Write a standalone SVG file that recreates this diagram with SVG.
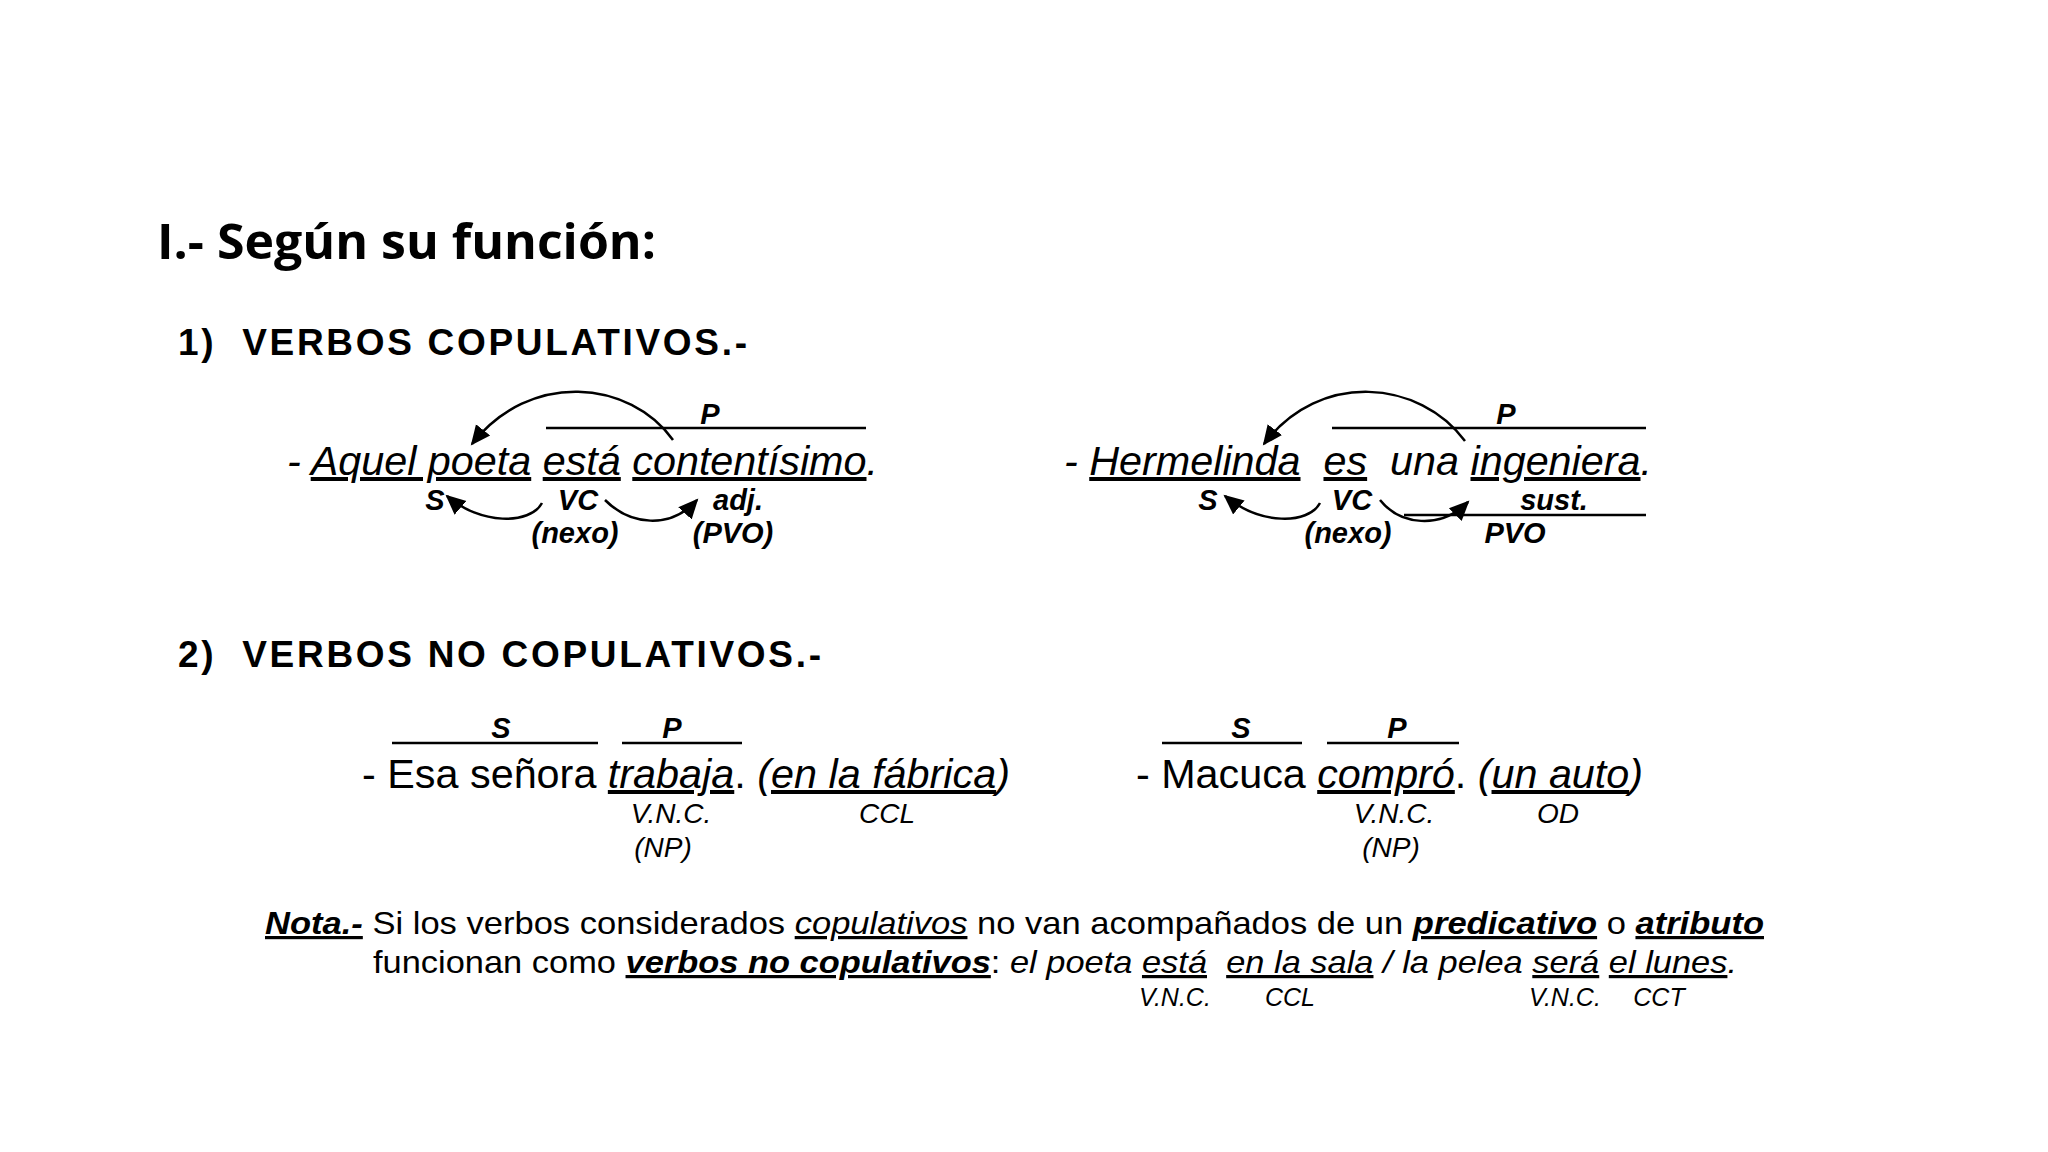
<svg xmlns="http://www.w3.org/2000/svg" width="2048" height="1152" viewBox="0 0 2048 1152">
<style>
.t{font-family:"Open Sans",sans-serif;font-weight:bold;font-size:48px;fill:#000}
.h{font-family:"Liberation Sans",Arial,sans-serif;font-weight:bold;font-size:37px;fill:#000}
.s{font-family:"Liberation Sans",Arial,sans-serif;font-size:40px;fill:#000}
.i{font-style:italic}
.u{text-decoration:underline}
.lb{font-family:"Liberation Sans",Arial,sans-serif;font-weight:bold;font-style:italic;font-size:29px;fill:#000;text-anchor:middle}
.ln{font-family:"Liberation Sans",Arial,sans-serif;font-style:italic;font-size:28px;fill:#000;text-anchor:middle}
.n{font-family:"Liberation Sans",Arial,sans-serif;font-size:32px;fill:#000}
.nl{font-family:"Liberation Sans",Arial,sans-serif;font-style:italic;font-size:25px;fill:#000;text-anchor:middle}
.l{stroke:#000;stroke-width:2.5}
.a{fill:none;stroke:#000;stroke-width:2.5}
</style>
<defs>
<marker id="ab" markerWidth="22" markerHeight="22" refX="18" refY="11" orient="auto" markerUnits="userSpaceOnUse"><path d="M0,2 L20,11 L0,20 Z" fill="#000"/></marker>
</defs>
<g id="title"><text class="t" x="157" y="259" textLength="499" lengthAdjust="spacingAndGlyphs">I.- Según su función:</text></g>
<g id="h1"><text class="h" x="178" y="355" textLength="569" xml:space="preserve">1)  VERBOS COPULATIVOS.-</text></g>
<g id="h2"><text class="h" x="178" y="667" textLength="643" xml:space="preserve">2)  VERBOS NO COPULATIVOS.-</text></g>

<g id="sent1">
<text class="s i" x="287" y="475" textLength="591" lengthAdjust="spacingAndGlyphs">- <tspan class="u">Aquel poeta</tspan> <tspan class="u">está</tspan> <tspan class="u">contentísimo</tspan>.</text>
<line class="l" x1="546" y1="428" x2="866" y2="428"/>
<text class="lb" x="710" y="424">P</text>
<text class="lb" x="435" y="510">S</text>
<text class="lb" x="578" y="510">VC</text>
<text class="lb" x="738" y="510">adj.</text>
<text class="lb" x="575" y="543">(nexo)</text>
<text class="lb" x="733" y="543">(PVO)</text>
</g>
<g id="sent2">
<text class="s i" x="1064" y="475" textLength="588" lengthAdjust="spacingAndGlyphs" xml:space="preserve">- <tspan class="u">Hermelinda</tspan>  <tspan class="u">es</tspan>  una <tspan class="u">ingeniera</tspan>.</text>
<line class="l" x1="1332" y1="428" x2="1646" y2="428"/>
<line class="l" x1="1404" y1="515" x2="1646" y2="515"/>
<text class="lb" x="1506" y="424">P</text>
<text class="lb" x="1208" y="510">S</text>
<text class="lb" x="1352" y="510">VC</text>
<text class="lb" x="1554" y="510">sust.</text>
<text class="lb" x="1348" y="543">(nexo)</text>
<text class="lb" x="1515" y="543">PVO</text>
</g>
<g id="sent3">
<text class="s" x="362" y="788" textLength="648" lengthAdjust="spacingAndGlyphs">- Esa señora <tspan class="i u">trabaja</tspan>. <tspan class="i">(<tspan class="u">en la fábrica</tspan>)</tspan></text>
<line class="l" x1="392" y1="743" x2="598" y2="743"/>
<line class="l" x1="622" y1="743" x2="742" y2="743"/>
<text class="lb" x="501" y="738">S</text>
<text class="lb" x="672" y="738">P</text>
<text class="ln" x="671" y="823">V.N.C.</text>
<text class="ln" x="663" y="857">(NP)</text>
<text class="ln" x="887" y="823">CCL</text>
</g>
<g id="sent4">
<text class="s" x="1136" y="788" textLength="507" lengthAdjust="spacingAndGlyphs">- Macuca <tspan class="i u">compró</tspan>. <tspan class="i">(<tspan class="u">un auto</tspan>)</tspan></text>
<line class="l" x1="1162" y1="743" x2="1302" y2="743"/>
<line class="l" x1="1327" y1="743" x2="1459" y2="743"/>
<text class="lb" x="1241" y="738">S</text>
<text class="lb" x="1397" y="738">P</text>
<text class="ln" x="1394" y="823">V.N.C.</text>
<text class="ln" x="1391" y="857">(NP)</text>
<text class="ln" x="1558" y="823">OD</text>
</g>
<g id="nota">
<text class="n" x="265" y="934" textLength="1499" lengthAdjust="spacingAndGlyphs"><tspan font-weight="bold" font-style="italic" class="u">Nota.-</tspan> Si los verbos considerados <tspan class="i u">copulativos</tspan> no van acompañados de un <tspan font-weight="bold" font-style="italic" class="u">predicativo</tspan> o <tspan font-weight="bold" font-style="italic" class="u">atributo</tspan></text>
<text class="n" x="373" y="973" textLength="1364" lengthAdjust="spacingAndGlyphs" xml:space="preserve">funcionan como <tspan font-weight="bold" font-style="italic" class="u">verbos no copulativos</tspan>: <tspan class="i">el poeta <tspan class="u">está</tspan>  <tspan class="u">en la sala</tspan> / la pelea <tspan class="u">será</tspan> <tspan class="u">el lunes</tspan>.</tspan></text>
<text class="nl" x="1175" y="1006">V.N.C.</text>
<text class="nl" x="1290" y="1006">CCL</text>
<text class="nl" x="1565" y="1006">V.N.C.</text>
<text class="nl" x="1659" y="1006">CCT</text>
</g>
<g id="connectors">
<path class="a" d="M673,440 C630,380 530,370 472,444" marker-end="url(#ab)"/>
<path class="a" d="M542,503 C530,525 480,525 447,496" marker-end="url(#ab)"/>
<path class="a" d="M605,500 C630,525 670,530 697,500" marker-end="url(#ab)"/>
<path class="a" d="M1465,441 C1420,380 1320,370 1264,444" marker-end="url(#ab)"/>
<path class="a" d="M1320,503 C1308,525 1260,525 1225,496" marker-end="url(#ab)"/>
<path class="a" d="M1380,500 C1400,525 1440,530 1468,502" marker-end="url(#ab)"/>
</g>
</svg>
